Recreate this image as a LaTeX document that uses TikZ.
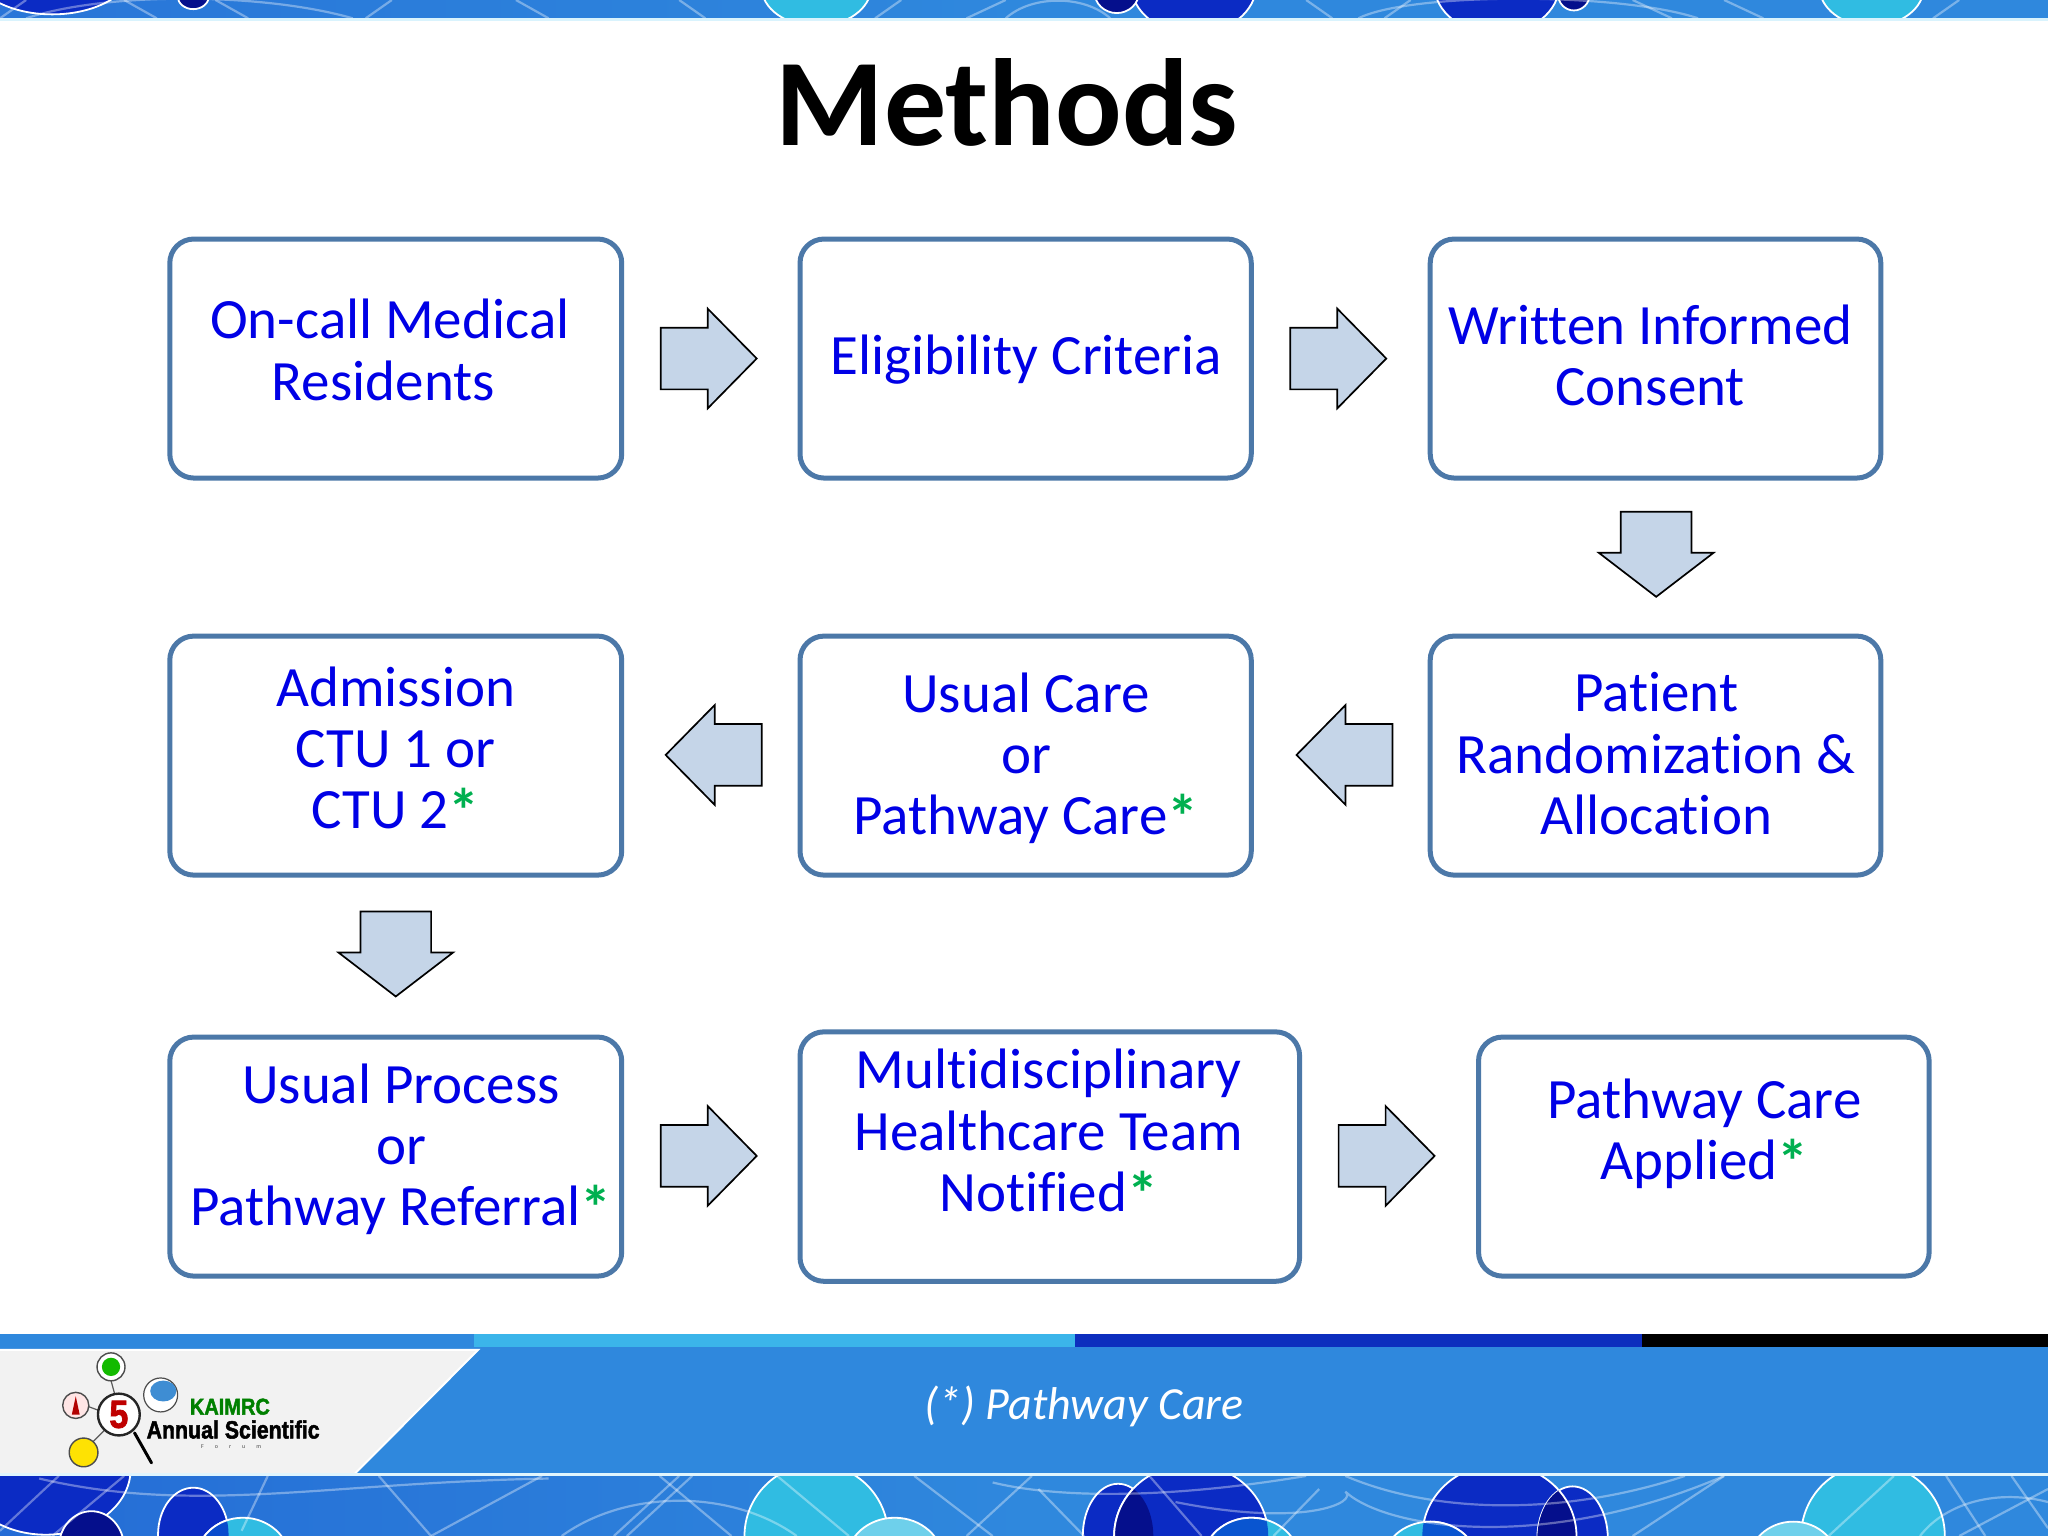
\documentclass[tikz,border=0pt]{standalone}
\usepackage{fontspec}
\usepackage{graphicx}
\setmainfont[Ligatures=NoCommon]{Carlito}
\newfontfamily\logofont[UprightFont={* Bold},FakeBold=2]{Liberation Sans}
\usetikzlibrary{shapes.arrows,calc}
\definecolor{edgeblue}{HTML}{4C78A8}
\definecolor{txtblue}{HTML}{0000E6}
\definecolor{stargreen}{HTML}{00B050}
\definecolor{arrowfill}{HTML}{C5D5E8}
\definecolor{footblue}{HTML}{2F88DD}
\definecolor{barcyan}{HTML}{3BB5EA}
\definecolor{barnavy}{HTML}{0D2EBE}
\definecolor{darkball}{HTML}{0B2BC4}
\definecolor{navyball}{HTML}{050F8C}
\definecolor{cyanball}{HTML}{30BCE2}
\newcommand{\gstar}{\raisebox{-4pt}{\textcolor{stargreen}{\bfseries\fontsize{62}{61.4}\selectfont *}}}
\tikzset{
  flowbox/.style={draw=edgeblue,line width=5pt,fill=white,rounded corners=24pt,inner sep=0pt},
  flowtext/.style={align=center,inner sep=0pt,text=txtblue,font=\fontsize{57}{61.4}\selectfont},
  blockbase/.style={shape=single arrow,draw=black,fill=arrowfill,line width=1.7pt,inner sep=0pt,shape border uses incircle=false},
  hblock/.style={blockbase,minimum height=96pt,minimum width=98pt,single arrow head extend=19pt,single arrow tip angle=91},
  vblock/.style={blockbase,minimum height=85pt,minimum width=113pt,single arrow head extend=22pt,single arrow tip angle=105},
  wline/.style={white,opacity=.36,line width=2.2pt},
  ball/.style={draw=white,line width=1.8pt}
}
\newcommand{\hshaft}{\rule{0pt}{60pt}}
\newcommand{\vshaft}{\rule{0pt}{69pt}}
\newcommand{\flowbox}[5]{\path let \p1=(#2,#3),\p2=(#4,#5) in node[flowbox,minimum width=\x2-\x1,minimum height=\y1-\y2] (#1) at ($(\p1)!.5!(\p2)$) {};}
\newcommand{\bandart}{%
  \fill[darkball] (35,1125) ellipse (65 and 50);
  \draw[ball] (35,1125) ellipse (65 and 50);
  \filldraw[ball,fill=navyball] (70,1185) ellipse (25 and 28);
  \filldraw[ball,fill=darkball] (148,1175) ellipse (27 and 36);
  \filldraw[ball,fill=cyanball] (186,1195) ellipse (36 and 33);
  \begin{scope}\clip (148,1175) ellipse (27 and 36);\filldraw[ball,fill=darkball!85!cyan] (186,1195) ellipse (36 and 33);\end{scope}
  \filldraw[ball,fill=cyanball] (625,1176) ellipse (55 and 55);
  \filldraw[ball,fill=cyanball!70!white] (685,1195) ellipse (37 and 33);
  \filldraw[ball,fill=darkball] (856,1176) ellipse (27 and 40);
  \filldraw[ball,fill=darkball] (912,1176) ellipse (59 and 55);
  \begin{scope}\clip (856,1176) ellipse (27 and 40);\filldraw[ball,fill=navyball] (912,1176) ellipse (59 and 55);\end{scope}
  \filldraw[ball,fill=cyanball] (958,1195) ellipse (37 and 33);
  \begin{scope}\clip (912,1176) ellipse (59 and 55);\filldraw[ball,fill=darkball!80!cyan] (958,1195) ellipse (37 and 33);\end{scope}
  \filldraw[ball,fill=darkball] (1148,1176) ellipse (59 and 55);
  \filldraw[ball,fill=darkball] (1204,1178) ellipse (27 and 40);
  \begin{scope}\clip (1204,1178) ellipse (27 and 40);\filldraw[ball,fill=navyball] (1148,1176) ellipse (59 and 55);\end{scope}
  \filldraw[ball,fill=cyanball] (1095,1198) ellipse (37 and 33);
  \begin{scope}\clip (1148,1176) ellipse (59 and 55);\filldraw[ball,fill=darkball!80!cyan] (1095,1198) ellipse (37 and 33);\end{scope}
  \filldraw[ball,fill=cyanball] (1434,1176) ellipse (55 and 55);
  \filldraw[ball,fill=cyanball!70!white] (1373,1198) ellipse (35 and 33);
  \foreach \a/\b/\c/\d in {0/1172/45/1130, 40/1176/95/1130, 185/1172/205/1130, 290/1130/330/1176, 330/1176/415/1130, 480/1176/530/1130, 470/1176/520/1130, 505/1130/560/1176, 700/1130/760/1176, 740/1176/790/1130, 880/1130/920/1176, 1250/1176/1320/1130, 1490/1130/1520/1176, 1540/1130/1568/1170, 1500/1176/1568/1140, 595/1130/650/1176, 1400/1176/1450/1130, 795/1140/830/1176, 975/1176/1010/1140}
    \draw[wline] (\a,\b) -- (\c,\d);
  \draw[wline] (30,1132) .. controls (150,1160) and (250,1135) .. (420,1132);
  \draw[wline] (430,1176) .. controls (480,1140) and (560,1140) .. (610,1176);
  \draw[wline] (900,1150) .. controls (1000,1170) and (1040,1150) .. (1030,1142) .. controls (1060,1170) and (1180,1190) .. (1320,1130);
  \draw[wline] (1030,1130) .. controls (1100,1160) and (1200,1160) .. (1290,1130);
  \draw[wline] (760,1135) .. controls (800,1145) and (880,1150) .. (1000,1130);
  \draw[wline] (1470,1176) .. controls (1490,1150) and (1530,1140) .. (1568,1150);}
\begin{document}
\begin{tikzpicture}[x=1.30612pt,y=-1.30612pt]
\useasboundingbox (0,0) rectangle (1568,1176);
\fill[white] (0,0) rectangle (1568,1176);
% top band
\begin{scope}
  \clip (0,0) rectangle (1568,14);
  \shade[left color=footblue!80!darkball,right color=footblue,middle color=footblue] (0,0) rectangle (1568,14);
  \fill[darkball] (40,-25) ellipse (62 and 36);\draw[ball] (40,-25) ellipse (62 and 36);
  \filldraw[ball,fill=navyball] (148,-3) ellipse (12 and 10);
  \filldraw[ball,fill=cyanball] (625,-10) ellipse (42 and 30);
  \filldraw[ball,fill=darkball] (914,-12) ellipse (48 and 38);
  \filldraw[ball,fill=navyball] (855,-6) ellipse (17 and 16);
  \filldraw[ball,fill=darkball] (1146,-12) ellipse (48 and 38);
  \filldraw[ball,fill=navyball] (1205,-4) ellipse (12 and 12);
  \filldraw[ball,fill=cyanball] (1433,-10) ellipse (40 and 30);
  \foreach \a/\c in {20/0, 95/120, 165/190, 300/280, 395/420, 520/540, 690/670, 770/740, 1000/1020, 1080/1060, 1250/1280, 1320/1350, 1500/1480}
    \draw[wline] (\a,0) -- (\c,14);
  \draw[wline] (20,14) .. controls (80,-6) and (200,-6) .. (270,14);
  \draw[wline] (770,14) .. controls (790,-4) and (830,-4) .. (850,14);
  \draw[wline] (1040,14) .. controls (1080,-6) and (1240,-6) .. (1300,14);
\end{scope}
\draw[cyan!15,line width=2.5pt] (0,15) -- (1568,15);
% title
\node[font=\fontsize{124}{130}\selectfont\bfseries,text=black,inner sep=0pt] (title) at (771,78.5) {Methods};
% boxes
\flowbox{b1}{130}{183}{476}{366}
\flowbox{b2}{612.5}{183}{958}{366}
\flowbox{b3}{1095}{183}{1440}{366}
\flowbox{b4}{1095}{487}{1440}{670}
\flowbox{b5}{612.5}{487}{958}{670}
\flowbox{b6}{130}{487}{476}{670}
\flowbox{b7}{130}{794}{476}{977}
\flowbox{b8}{612.5}{790}{995}{981}
\flowbox{b9}{1132}{794}{1477}{977}
% texts
\node[flowtext] (t1) at (298.5,268) {On-call Medical\\\mbox{Residents\hspace{13pt}}};
\node[flowtext] (t2) at (786,275) {Eligibility Criteria};
\node[flowtext] (t3) at (1263.5,272) {Written Informed\\Consent};
\node[flowtext] (t4) at (1268,577) {Patient\\Randomization \&\\Allocation};
\node[flowtext] (t5) at (785.5,580.5) {Usual Care\\or\\Pathway Care\gstar};
\node[flowtext] (t6) at (303,574) {Admission\\CTU 1 or\\CTU 2\gstar};
\node[flowtext] (t7) at (307,880) {Usual Process\\or\\Pathway Referral\gstar};
\node[flowtext] (t8) at (803,867) {Multidisciplinary\\Healthcare Team\\Notified\gstar};
\node[flowtext] (t9) at (1305,868) {Pathway Care\\Applied\gstar};
% block arrows
\node[hblock] (a1) at (531,274.5) {\hshaft};
\node[hblock] (a2) at (1013,274.5) {\hshaft};
\node[vblock,rotate=-90] (a3) at (1268,414) {\vshaft};
\node[hblock,rotate=180] (a4) at (1041,578) {\hshaft};
\node[hblock,rotate=180] (a5) at (558,578) {\hshaft};
\node[vblock,rotate=-90] (a6) at (303,720) {\vshaft};
\node[hblock] (a7) at (531,885) {\hshaft};
\node[hblock] (a8) at (1050,885) {\hshaft};
% footer bars
\fill[footblue] (0,1021) rectangle (363,1031);
\fill[barcyan] (363,1021) rectangle (823,1031);
\fill[barnavy] (823,1021) rectangle (1257,1031);
\fill[black] (1257,1021) rectangle (1568,1031);
\fill[footblue] (0,1031) rectangle (1568,1128);
\fill[gray!10] (0,1034) -- (366,1034) -- (272,1128) -- (0,1128) -- cycle;
\draw[white,line width=2pt] (0,1033.5) -- (366,1033.5) -- (272,1128);
\node[font=\fontsize{46}{50}\selectfont\itshape,text=white,inner sep=0pt] (foot) at (830,1076.5) {(*) Pathway Care};
% bottom band
\begin{scope}
  \clip (0,1130) rectangle (1568,1176);
  \shade[left color=footblue!70!darkball,right color=footblue,middle color=footblue] (0,1130) rectangle (1568,1176);
  \bandart
\end{scope}
\draw[cyan!12,line width=3.2pt] (0,1129) -- (1568,1129);
% logo
\begin{scope}
  \draw[gray!70!black,line width=1.2pt] (85,1057) -- (88,1068);
  \draw[gray!70!black,line width=1.2pt] (68,1077) -- (76,1080);
  \draw[gray!70!black,line width=1.2pt] (71,1104) -- (80,1095);
  \draw[black,line width=3pt,line cap=round] (103,1097) -- (116,1120);
  \filldraw[draw=black!70,fill=white,line width=1.4pt] (85,1046.5) circle (10.7);
  \fill[green!70!black!90!lime] (85,1046.5) circle (7);
  \filldraw[draw=black!70,fill=pink!40,line width=1.4pt] (58,1076) circle (10);
  \fill[red!70!black] (58,1069) -- (61,1083) -- (55,1083) -- cycle;
  \filldraw[draw=black!70,fill=white,line width=1.2pt] (123,1068) circle (13);
  \fill[cyan!60!blue!80] (125,1065) ellipse (10 and 8);
  \filldraw[draw=black!85,fill=white,line width=2.4pt] (91,1083) circle (16);
  \filldraw[draw=black!70,fill=yellow!85!orange,line width=1.4pt] (64,1112) circle (11);
  \node[inner sep=0pt,text=red!75!black] (five) at (91,1083) {\resizebox{19pt}{27pt}{\logofont 5}};
  \node[inner sep=0pt,anchor=center,text=green!50!black] (kaimrc) at (176,1077) {\resizebox{80pt}{16pt}{\logofont KAIMRC}};
  \node[inner sep=0pt,anchor=center,text=black] (annual) at (178.5,1094.5) {\resizebox{173pt}{18pt}{\logofont Annual Scientific}};
  \node[inner sep=0pt,anchor=center,text=black!70] (forum) at (177,1107.5) {\fontsize{6}{7}\selectfont F\hspace{11pt}o\hspace{11pt}r\hspace{11pt}u\hspace{11pt}m};
\end{scope}
\end{tikzpicture}
\end{document}
